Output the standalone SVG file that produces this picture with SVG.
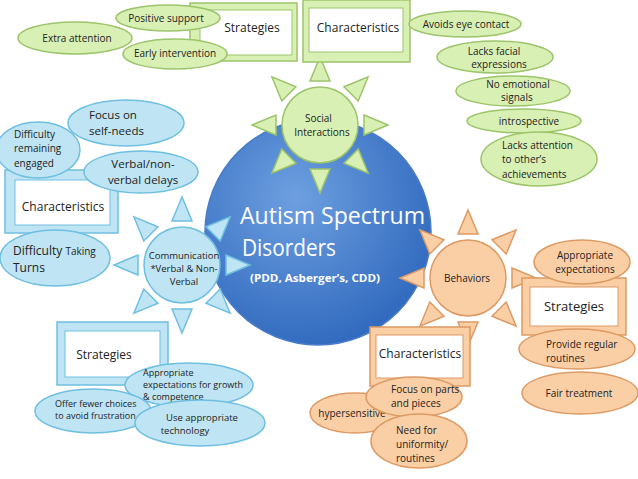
<svg xmlns="http://www.w3.org/2000/svg" xmlns:xlink="http://www.w3.org/1999/xlink" width="638" height="479" viewBox="0 0 638 479">
<style>
text{font-family:"Open Sans","Liberation Sans",sans-serif;fill:#222;text-anchor:middle}
.g{fill:#d9f0b4;stroke:#9cc46a;stroke-width:1.5}
.b{fill:#bfe5f4;stroke:#6fbfe0;stroke-width:1.5}
.o{fill:#fbcfa6;stroke:#dd9a64;stroke-width:1.5}
.w{fill:#fff}
.s{font-size:10px}
.m{font-size:12px}
</style>
<defs>
<radialGradient id="bg" cx="0.4" cy="0.35" r="0.7">
<stop offset="0" stop-color="#6d9fe0"/><stop offset="1" stop-color="#2f68bd"/>
</radialGradient>
<polygon id="ray" points="44,-10 68,0 44,10"/>
</defs>
<g id="main">
<circle cx="318" cy="232" r="113" fill="url(#bg)" stroke="#4a7cc8" stroke-width="1.5"/>
<text x="240" y="224" textLength="185" lengthAdjust="spacingAndGlyphs" style="font-size:24px;fill:#fff;text-anchor:start">Autism Spectrum</text>
<text x="242" y="256" textLength="94" lengthAdjust="spacingAndGlyphs" style="font-size:24px;fill:#fff;text-anchor:start">Disorders</text>
<text x="250" y="282" textLength="130" lengthAdjust="spacingAndGlyphs" style="font-size:11px;fill:#fff;font-weight:bold;text-anchor:start">(PDD, Asberger’s, CDD)</text>
</g>
<g id="connectors">
<g class="g" transform="translate(320,125)">
<use xlink:href="#ray"/><use xlink:href="#ray" transform="rotate(45)"/><use xlink:href="#ray" transform="rotate(90)"/><use xlink:href="#ray" transform="rotate(135)"/><use xlink:href="#ray" transform="rotate(180)"/><use xlink:href="#ray" transform="rotate(225)"/><use xlink:href="#ray" transform="rotate(270)"/><use xlink:href="#ray" transform="rotate(315)"/>
</g>
<g class="b" transform="translate(182,265)">
<use xlink:href="#ray"/><use xlink:href="#ray" transform="rotate(45)"/><use xlink:href="#ray" transform="rotate(90)"/><use xlink:href="#ray" transform="rotate(135)"/><use xlink:href="#ray" transform="rotate(180)"/><use xlink:href="#ray" transform="rotate(225)"/><use xlink:href="#ray" transform="rotate(270)"/><use xlink:href="#ray" transform="rotate(315)"/>
</g>
<g class="o" transform="translate(468,278)">
<use xlink:href="#ray"/><use xlink:href="#ray" transform="rotate(45)"/><use xlink:href="#ray" transform="rotate(90)"/><use xlink:href="#ray" transform="rotate(135)"/><use xlink:href="#ray" transform="rotate(180)"/><use xlink:href="#ray" transform="rotate(225)"/><use xlink:href="#ray" transform="rotate(270)"/><use xlink:href="#ray" transform="rotate(315)"/>
</g>
</g>
<g id="social"><circle class="g" cx="320" cy="125" r="38"/><text class="s" x="305" y="122" style="text-anchor:start">Social</text><text class="s" x="322" y="136">Interactions</text></g>
<g id="communication"><circle class="b" cx="182" cy="265" r="38"/><text x="184" y="259" style="font-size:9.5px">Communication</text><text x="184" y="272" style="font-size:9.5px">*Verbal &amp; Non-</text><text x="184" y="285" style="font-size:9.5px">Verbal</text></g>
<g id="behaviors"><circle class="o" cx="468" cy="278" r="38"/><text class="s" x="467" y="282">Behaviors</text></g>

<g id="g-strategies"><rect class="g" x="190" y="3" width="107" height="58"/><rect class="w" x="200" y="10" width="92" height="45" stroke="#9cc46a"/><text class="m" x="252" y="32">Strategies</text></g>
<g id="g-characteristics"><rect class="g" x="303" y="0" width="107" height="62"/><rect class="w" x="309" y="8" width="94" height="44" stroke="#9cc46a"/><text class="m" x="358" y="32">Characteristics</text></g>
<g id="g-pos"><ellipse class="g" cx="168" cy="18" rx="52" ry="13"/><text class="s" x="166" y="22">Positive support</text></g>
<g id="g-extra"><ellipse class="g" cx="75" cy="38" rx="57" ry="16"/><text class="s" x="77" y="42">Extra attention</text></g>
<g id="g-early"><ellipse class="g" cx="175" cy="54" rx="52" ry="15"/><text class="s" x="175" y="57">Early intervention</text></g>
<g id="g-avoids"><ellipse class="g" cx="465" cy="24" rx="56" ry="13"/><text class="s" x="466" y="28">Avoids eye contact</text></g>
<g id="g-lacksf"><ellipse class="g" cx="495" cy="57" rx="58" ry="16"/><text class="s" x="494" y="55">Lacks facial</text><text class="s" x="499" y="68">expressions</text></g>
<g id="g-noemo"><ellipse class="g" cx="513" cy="91" rx="57" ry="15"/><text class="s" x="518" y="88">No emotional</text><text class="s" x="501" y="101" style="text-anchor:start">signals</text></g>
<g id="g-intro"><ellipse class="g" cx="524" cy="121" rx="57" ry="12"/><text class="s" x="529" y="125">introspective</text></g>
<g id="g-lacksa"><ellipse class="g" cx="539" cy="159" rx="58" ry="27"/><text class="s" x="502" y="149" style="text-anchor:start">Lacks attention</text><text class="s" x="502" y="163" style="text-anchor:start">to other’s</text><text class="s" x="502" y="178" style="text-anchor:start">achievements</text></g>

<g id="b-characteristics"><rect class="b" x="5" y="170" width="113" height="63"/><rect class="w" x="15" y="180" width="95" height="45" stroke="#6fbfe0"/><text class="m" x="63" y="211">Characteristics</text></g>
<g id="b-diffeng"><ellipse class="b" cx="38" cy="150" rx="42" ry="28"/><text class="s" x="14" y="138" style="text-anchor:start">Difficulty</text><text class="s" x="14" y="152" style="text-anchor:start">remaining</text><text class="s" x="14" y="167" style="text-anchor:start">engaged</text></g>
<g id="b-focus"><ellipse class="b" cx="126" cy="123" rx="58" ry="23"/><text x="89" y="119" style="font-size:11.5px;text-anchor:start">Focus on</text><text x="89" y="135" style="font-size:11.5px;text-anchor:start">self-needs</text></g>
<g id="b-verbal"><ellipse class="b" cx="141" cy="172" rx="57" ry="21"/><text x="143" y="168" style="font-size:11.5px">Verbal/non-</text><text x="143" y="184" style="font-size:11.5px">verbal delays</text></g>
<g id="b-turns"><ellipse class="b" cx="55" cy="258" rx="55" ry="28"/><text x="13" y="255" style="font-size:12px;text-anchor:start">Difficulty <tspan style="font-size:10px">Taking</tspan></text><text x="13" y="272" style="font-size:12px;text-anchor:start">Turns</text></g>
<g id="b-strategies"><rect class="b" x="57" y="322" width="111" height="63"/><rect class="w" x="65" y="331" width="95" height="46" stroke="#6fbfe0"/><text class="m" x="104" y="359">Strategies</text></g>
<g id="b-approp"><ellipse class="b" cx="189" cy="385" rx="64" ry="22"/><text x="143" y="376" style="font-size:9px;text-anchor:start">Appropriate</text><text x="143" y="388" style="font-size:9px;text-anchor:start">expectations for growth</text><text x="143" y="400" style="font-size:9px;text-anchor:start">&amp; competence</text></g>
<g id="b-offer"><ellipse class="b" cx="93" cy="411" rx="58" ry="22"/><text x="55" y="407" style="font-size:9px;text-anchor:start">Offer fewer choices</text><text x="55" y="419" style="font-size:9px;text-anchor:start">to avoid frustration</text></g>
<g id="b-tech"><ellipse class="b" cx="200" cy="423" rx="65" ry="23"/><text x="202" y="421" style="font-size:9.5px">Use appropriate</text><text x="185" y="434" style="font-size:9.5px">technology</text></g>

<g id="o-strategies"><rect class="o" x="522" y="278" width="104" height="57"/><rect class="w" x="530" y="287" width="88" height="39" stroke="#dd9a64"/><text x="574" y="311" style="font-size:13px">Strategies</text></g>
<g id="o-approp"><ellipse class="o" cx="582" cy="262" rx="48" ry="22"/><text class="s" x="585" y="259">Appropriate</text><text class="s" x="585" y="273">expectations</text></g>
<g id="o-routines"><ellipse class="o" cx="577" cy="349" rx="58" ry="20"/><text class="s" x="546" y="348" style="text-anchor:start">Provide regular</text><text class="s" x="546" y="362" style="text-anchor:start">routines</text></g>
<g id="o-fair"><ellipse class="o" cx="580" cy="393" rx="58" ry="21"/><text class="s" x="579" y="397">Fair treatment</text></g>
<g id="o-characteristics"><rect class="o" x="370" y="327" width="100" height="59"/><rect class="w" x="376" y="335" width="87" height="43" stroke="#dd9a64"/><text class="m" x="420" y="358">Characteristics</text></g>
<g id="o-hyper"><ellipse class="o" cx="355" cy="413" rx="45" ry="20"/><text class="s" x="352" y="417">hypersensitive</text></g>
<g id="o-focus"><ellipse class="o" cx="414" cy="397" rx="48" ry="20"/><text class="s" x="391" y="393" style="text-anchor:start">Focus on parts</text><text class="s" x="391" y="407" style="text-anchor:start">and pieces</text></g>
<g id="o-need"><ellipse class="o" cx="419" cy="441" rx="48" ry="27"/><text class="s" x="396" y="434" style="text-anchor:start">Need for</text><text class="s" x="396" y="448" style="text-anchor:start">uniformity/</text><text class="s" x="396" y="462" style="text-anchor:start">routines</text></g>
</svg>
